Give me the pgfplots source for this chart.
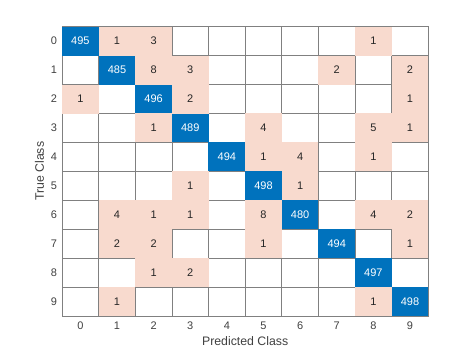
\documentclass[border=0pt]{standalone}
\usepackage{fontspec}
\setmainfont{Liberation Sans}
\usepackage{pgfplots}
\pgfplotsset{compat=1.18}
\usepackage{pgfplotstable}
\definecolor{mblue}{RGB}{0,114,189}
\definecolor{mpink}{RGB}{248,218,206}
\definecolor{tickgray}{RGB}{64,64,64}
\definecolor{celltext}{RGB}{38,38,38}
\definecolor{gridgray}{RGB}{128,128,128}
\pgfdeclareplotmark{cell}{\pgfpathrectanglecorners{\pgfpoint{-18.35pt}{-14.5pt}}{\pgfpoint{18.35pt}{14.5pt}}\pgfusepathqfill}

\pgfplotstableread{
x y v
0 0 495
1 1 485
2 2 496
3 3 489
4 4 494
5 5 498
6 6 480
7 7 494
8 8 497
9 9 498
}\diag

\pgfplotstableread{
x y v
1 0 1
2 0 3
8 0 1
2 1 8
3 1 3
7 1 2
9 1 2
0 2 1
3 2 2
9 2 1
2 3 1
5 3 4
8 3 5
9 3 1
5 4 1
6 4 4
8 4 1
3 5 1
6 5 1
1 6 4
2 6 1
3 6 1
5 6 8
8 6 4
9 6 2
1 7 2
2 7 2
5 7 1
9 7 1
2 8 1
3 8 2
1 9 1
8 9 1
}\offd

\begin{document}
\begin{tikzpicture}
\begin{axis}[
  name=ax,
  /pgf/number format/assume math mode=true,
  scale only axis,
  width=366pt, height=289pt,
  xmin=-0.5, xmax=9.5, ymin=-0.5, ymax=9.5,
  y dir=reverse,
  xtick={0,...,9}, ytick={0,...,9},
  minor xtick={-0.5,0.5,...,9.5},
  minor ytick={-0.5,0.5,...,9.5},
  xminorgrids=true, yminorgrids=true,
  minor grid style={draw=gridgray, line width=0.6pt},
  major tick length=0pt, minor tick length=0pt,
  axis line style={draw=gridgray, line width=0.6pt},
  axis on top,
  tick label style={font=\fontsize{11}{13}\selectfont, text=tickgray},
  xticklabel style={yshift=-2pt},
  yticklabel style={xshift=-1.5pt},
  xlabel={Predicted Class}, ylabel={True Class},
  label style={font=\fontsize{12.3}{14}\selectfont, text=tickgray},
  clip=false,
]
\addplot[only marks, mark=cell, color=mblue,
  point meta=explicit,
  nodes near coords,
  every node near coord/.append style={anchor=center, text=white, font=\fontsize{11}{13}\selectfont}]
  table[x=x, y=y, meta=v] {\diag};
\addplot[only marks, mark=cell, color=mpink,
  point meta=explicit,
  nodes near coords,
  every node near coord/.append style={anchor=center, text=celltext, font=\fontsize{11}{13}\selectfont}]
  table[x=x, y=y, meta=v] {\offd};
\end{axis}
\path[use as bounding box] ([shift={(-62pt,-39.3pt)}]ax.south west) rectangle ([shift={(45.7pt,26.7pt)}]ax.north east);
\end{tikzpicture}
\end{document}
